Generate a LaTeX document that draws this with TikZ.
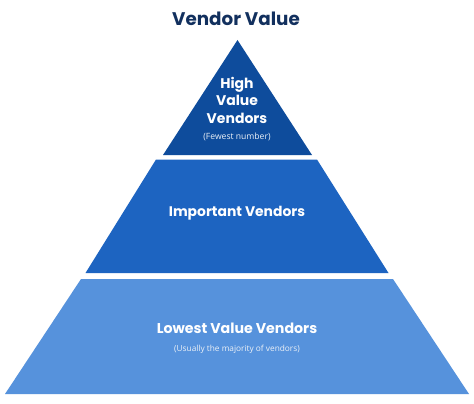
\documentclass[tikz,border=0pt]{standalone}
\usepackage{fontspec}
\setmainfont{Poppins}
\newfontfamily\smallfont{Open Sans}
\definecolor{navy}{HTML}{12305E}
\definecolor{tierA}{HTML}{0E4C9C}
\definecolor{tierB}{HTML}{1D64C1}
\definecolor{tierC}{HTML}{5692DC}
\begin{document}
\begin{tikzpicture}[x=1pt,y=-1pt,
  label/.style={text=white,font=\bfseries,align=center,inner sep=0pt},
  note/.style={text=white!92!tierA,font=\smallfont,inner sep=0pt}]
\useasboundingbox (0,0) rectangle (474,404);
\fill[white] (0,0) rectangle (474,404);
\fill[tierA] (237.5,40) -- (312,155) -- (163,155) -- cycle;
\fill[tierB] (156,159.5) -- (317,159.5) -- (388.5,273) -- (85.5,273) -- cycle;
\fill[tierC] (81,279) -- (393,279) -- (469,394) -- (5,394) -- cycle;
\node[text=navy,font=\fontsize{18.3}{22}\selectfont\bfseries,inner sep=0pt] (title) at (236,19) {Vendor Value};
\node[label,font=\fontsize{14}{17.5}\selectfont\bfseries] (high) at (237,100) {High\\Value\\Vendors};
\node[note,font=\smallfont\fontsize{8.6}{10}\selectfont] (fewest) at (237,137) {(Fewest number)};
\node[label,font=\fontsize{13.9}{16}\selectfont\bfseries] (imp) at (237,213) {Important Vendors};
\node[label,font=\fontsize{14.2}{16}\selectfont\bfseries] (low) at (237,328) {Lowest Value Vendors};
\node[note,font=\smallfont\fontsize{8.3}{10}\selectfont] (usual) at (237,349) {(Usually the majority of vendors)};
\end{tikzpicture}
\end{document}
